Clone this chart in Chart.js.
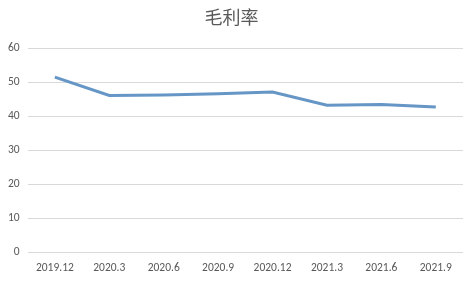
<!DOCTYPE html>
<html>
<head>
<meta charset="utf-8">
<script src="https://cdn.jsdelivr.net/npm/chart.js@4/dist/chart.umd.min.js"></script>
<style>
  html, body { margin: 0; padding: 0; background: #fff; }
  #wrap { width: 473px; height: 287px; position: relative; }
</style>
</head>
<body>
<div id="wrap"><canvas id="chart"></canvas></div>
<script>
// Gross margin by quarter
const periods = ["2019.12", "2020.3", "2020.6", "2020.9", "2020.12", "2021.3", "2021.6", "2021.9"];
const grossMargin = [51.6, 46.2, 46.3, 46.7, 47.2, 43.3, 43.5, 42.8];
const yTicks = [0, 10, 20, 30, 40, 50, 60];

const ctx = document.getElementById("chart").getContext("2d");

new Chart(ctx, {
  type: "line",
  data: {
    labels: periods,
    datasets: [{
      data: grossMargin,
      borderColor: "#6596c6",
      borderWidth: 3,
      pointRadius: 0,
      tension: 0,
      fill: false
    }]
  },
  options: {
    responsive: true,
    maintainAspectRatio: false,
    animation: false,
    layout: { padding: { left: 0, right: 10, top: 6, bottom: 3 } },
    plugins: {
      legend: { display: false },
      tooltip: { enabled: false },
      title: {
        display: true,
        text: "毛利率",
        color: "#595959",
        font: { family: "Noto Sans CJK SC", size: 18, weight: "normal" },
        padding: { top: 0, bottom: 21 }
      }
    },
    scales: {
      x: {
        offset: true,
        grid: { display: false, drawTicks: false },
        border: { display: false },
        ticks: {
          color: "#595959",
          font: { family: "Calibri, Carlito, 'Liberation Sans', sans-serif", size: 11.5 },
          padding: 9,
          maxRotation: 0,
          autoSkip: false
        }
      },
      y: {
        min: 0,
        max: 60,
        afterBuildTicks: axis => { axis.ticks = yTicks.map(v => ({ value: v })); },
        grid: { color: "#d9d9d9", lineWidth: 1, drawTicks: false },
        border: { display: false },
        ticks: {
          color: "#595959",
          font: { family: "Calibri, Carlito, 'Liberation Sans', sans-serif", size: 11.5 },
          padding: 8
        }
      }
    }
  }
});
</script>
</body>
</html>
